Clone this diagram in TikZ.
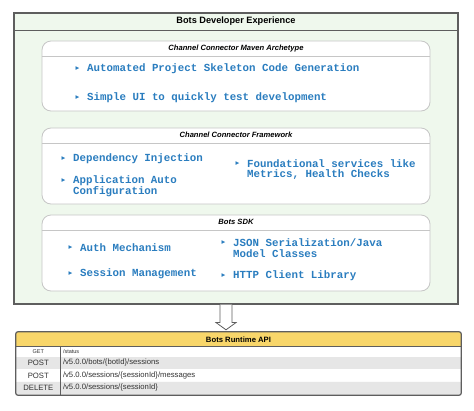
\documentclass[tikz,border=0pt]{standalone}
\usepackage{fontspec}
\setmainfont{Liberation Sans}
\setmonofont{Liberation Mono}
\newfontfamily\symfont{DejaVu Sans}
\usetikzlibrary{positioning,calc}
\definecolor{devgreen}{HTML}{EFF8ED}
\definecolor{featblue}{HTML}{2A7DBF}
\definecolor{apiyellow}{HTML}{F8D66A}
\definecolor{rowgray}{HTML}{E6E6E6}
\definecolor{edgegray}{HTML}{5E5E5E}
\definecolor{cardgray}{HTML}{C6C6C6}
\definecolor{apitext}{HTML}{333333}
\tikzset{
  devbox/.style={draw=edgegray,fill=devgreen,line width=1.1pt,inner sep=0pt},
  card/.style={draw=cardgray,fill=white,rounded corners=9pt,line width=0.8pt,inner sep=0pt},
  cardtitle/.style={font=\fontsize{7.6}{8}\selectfont\bfseries\itshape},
  feat/.style={font=\fontsize{10.8}{10.5}\selectfont\ttfamily\bfseries,text=featblue,anchor=west,align=left,inner sep=0pt},
  bul/.style={font=\fontsize{7.5}{7.5}\selectfont\symfont,text=featblue,inner sep=0pt},
  apicell/.style={font=\fontsize{7.7}{8}\selectfont,text=apitext,inner sep=0pt},
}
\begin{document}
\begin{tikzpicture}[x=1pt,y=-1pt]
\useasboundingbox (0,0) rectangle (474,410);
% outer developer experience box
\node[devbox,minimum width=444pt,minimum height=291pt] (dev) at (236,158.5) {};
\draw[edgegray,line width=0.8pt] ($(dev.north west)+(0,17.5)$) -- ($(dev.north east)+(0,17.5)$);
\node[font=\fontsize{9.2}{10}\selectfont\bfseries] (devtitle) at ($(dev.north)+(0,8.5)$) {Bots Developer Experience};
% the three cards
\foreach \n/\top/\bot/\t in {maven/41/111/Channel Connector Maven Archetype,frame/128/204/Channel Connector Framework,sdk/215/291/Bots SDK} {
  \pgfmathsetmacro{\h}{\bot-\top}
  \node[card,minimum width=388pt,minimum height=\h pt] (\n) at (236,{(\top+\bot)/2}) {};
  \draw[cardgray,line width=0.8pt] ($(\n.north west)+(0,15.5)$) -- ($(\n.north east)+(0,15.5)$);
  \node[cardtitle] (\n-title) at ($(\n.north)+(0,7.5)$) {\t};
}
% feature lines with bullets
\foreach \x/\y/\b/\n/\t in {87/69/69/skel/{Automated Project Skeleton Code Generation},87/98/98/ui/{Simple UI to quickly test development},
  73/159/159/di/{Dependency Injection},73/186/181/conf/{Application Auto\\Configuration},247/169.5/164/svc/{Foundational services like\\Metrics, Health Checks},
  80/248/248/auth/{Auth Mechanism},80/274/274/sess/{Session Management},233/248/243/json/{JSON Serialization/Java\\Model Classes},233/276/276/http/{HTTP Client Library}} {
  \node[feat] (\n) at (\x,\y) {\t};
  \node[bul] (\n-bul) at (\x-9.5,\b-0.5) {▸};
}
% runtime api table
\node[inner sep=0pt,minimum width=445pt,minimum height=63pt] (api) at (238.5,363.5) {};
\fill[apiyellow,rounded corners=2pt] (api.north west) rectangle ($(api.north east)+(0,15)$);
\fill[apiyellow] ($(api.north west)+(0,5)$) rectangle ($(api.north east)+(0,15)$);
\fill[white] ($(api.north west)+(0,15)$) rectangle ($(api.south east)+(0,-3)$);
\fill[rowgray] ($(api.north west)+(0,25)$) rectangle ($(api.north east)+(0,37)$);
\fill[rowgray,rounded corners=2pt] ($(api.north west)+(0,50)$) rectangle (api.south east);
\fill[rowgray] ($(api.north west)+(0,50)$) rectangle ($(api.south east)+(0,-5)$);
\draw[edgegray,line width=1.2pt,rounded corners=2pt] (api.north west) rectangle (api.south east);
\draw[edgegray,line width=0.9pt] ($(api.north west)+(0,15)$) -- ($(api.north east)+(0,15)$);
\draw[edgegray,line width=1pt] ($(api.north west)+(45,15)$) -- ($(api.south west)+(45,0)$);
\node[font=\fontsize{7.7}{8}\selectfont\bfseries] (apititle) at ($(api.north)+(0,7.5)$) {Bots Runtime API};
\foreach \y/\m/\ms/\p/\ps in {20/GET/5.5/{/status}/5.5,31/POST/7.7/{/v5.0.0/bots/\{botId\}/sessions}/7.7,44/POST/7.7/{/v5.0.0/sessions/\{sessionId\}/messages}/7.7,56/DELETE/7.7/{/v5.0.0/sessions/\{sessionId\}}/7.7} {
  \node[apicell,font=\fontsize{\ms}{8}\selectfont] (m\y) at ($(api.north west)+(22.5,\y)$) {\m};
  \node[apicell,anchor=west,font=\fontsize{\ps}{8}\selectfont] (p\y) at ($(api.north west)+(47,\y)$) {\p};
}
% hollow arrow down to the api
\coordinate (arr) at ($(dev.south)+(-10,0)$);
\draw[edgegray,fill=white,line width=0.8pt] ($(arr)+(-6,0)$) -- ($(arr)+(-6,18)$) -- ($(arr)+(-10,18)$) -- ($(arr |- api.north)+(0,-2)$)
  -- ($(arr)+(10,18)$) -- ($(arr)+(6,18)$) -- ($(arr)+(6,0)$);
\end{tikzpicture}
\end{document}
